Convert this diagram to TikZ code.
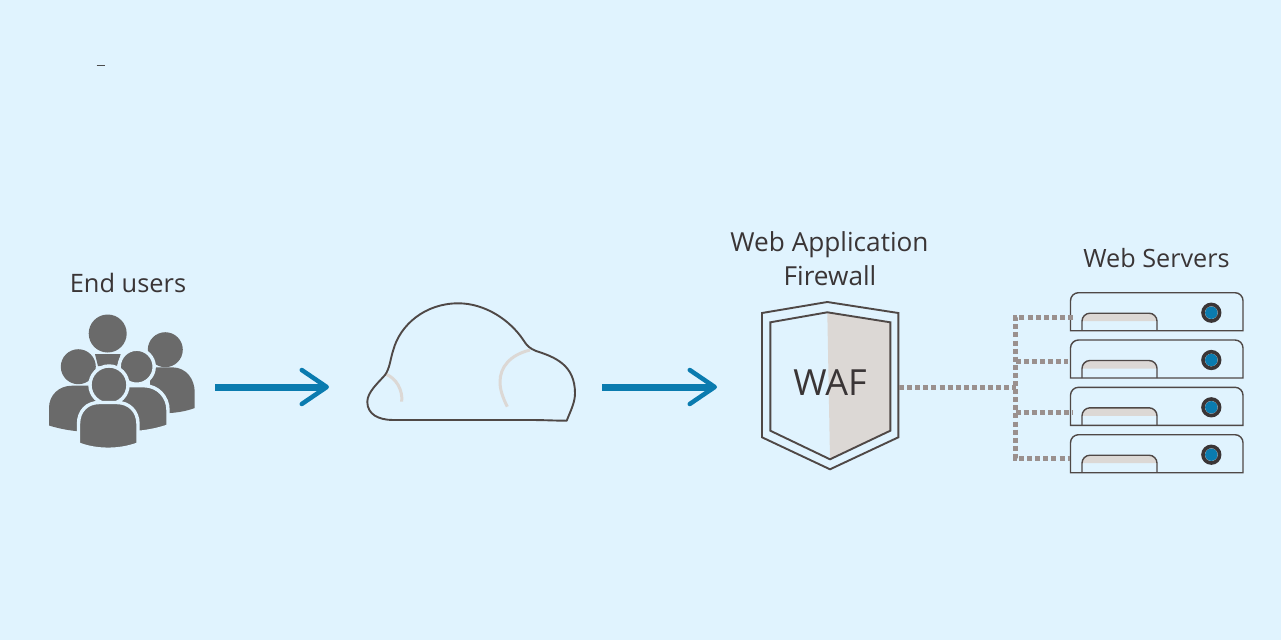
\documentclass[tikz,border=0pt]{standalone}
\usepackage{fontspec}
\setmainfont{Open Sans}
\usetikzlibrary{arrows.meta}
\definecolor{bgc}{HTML}{E0F3FE}
\definecolor{usr}{HTML}{6A6A6A}
\definecolor{txt}{HTML}{3A3536}
\definecolor{blu}{HTML}{0A7BAF}
\definecolor{lin}{HTML}{4F4846}
\definecolor{pal}{HTML}{DCD8D5}
\definecolor{dot}{HTML}{9A908E}
\tikzset{
  label text/.style={text=txt,font=\fontsize{25.4}{30}\selectfont,inner sep=0pt,anchor=base},
  flow/.style={draw=blu,line width=7pt,-{Straight Barb[length=25pt,width=34pt,line width=4.5pt,round]}},
  link/.style={draw=dot,line width=5pt,dash pattern=on 5pt off 3.1pt},
  person/.style={fill=usr,draw=none},
  ringed/.style={fill=usr,draw=bgc,line width=3.4pt},
  outline/.style={draw=lin,line width=1.9pt,line join=miter},
  soft/.style={draw=pal,line width=3pt,line cap=butt},
  rack/.style={draw=lin,line width=1.4pt},
}
\newcommand{\rackunit}[1]{%
  \begin{scope}[shift={(0,#1)}]
    \fill[pal] (1082,28.5) arc[start angle=180,end angle=270,radius=8] -- (1149,20.5) arc[start angle=270,end angle=360,radius=8] -- cycle;
    \draw[rack] (1070.5,38) -- (1070.5,8) arc[start angle=180,end angle=270,radius=8] -- (1235,0) arc[start angle=270,end angle=360,radius=8] -- (1243,38) -- cycle;
    \draw[rack] (1082,38) -- (1082,28.5) arc[start angle=180,end angle=270,radius=8] -- (1149,20.5) arc[start angle=270,end angle=360,radius=8] -- (1157,38);
    \fill[blu] (1211.3,20) circle[radius=6.2];
    \draw[txt,line width=3.6pt] (1211.3,20) circle[radius=8.3];
  \end{scope}}
\begin{document}
\begin{tikzpicture}[x=1pt,y=-1pt]
\path[use as bounding box,fill=bgc] (0,0) rectangle (1281,640);
% stray mark
\draw[black!70,line width=0.8pt] (96.5,65) -- (104.5,65);

% users
\fill[person] (107.7,333.5) circle[radius=19];
\fill[person] (95,354) -- (120.7,354) -- (117,366) -- (98,366) -- cycle;
\fill[person] (165.3,349.7) circle[radius=17.5];
\fill[person] (150,367.3) -- (172,367.3) .. controls (187,367.3) and (194.7,380) .. (194.7,392) -- (194.7,408) .. controls (187,411) and (178,412.5) .. (170,413) -- (150,413) -- cycle;
\path[ringed] (136.7,366.7) circle[radius=17.5];
\path[ringed] (106,385.7) -- (144,385.7) .. controls (158,385.7) and (168,397) .. (168,410) -- (168,426) .. controls (160,429) and (150,431) .. (141.7,432) -- (106,432) -- cycle;
\fill[person] (78.3,366.7) circle[radius=17.5];
\fill[person] (72,385.7) -- (108,385.7) -- (108,431) -- (75.7,431) .. controls (66,430) and (57,428) .. (49,425.5) -- (49,408) .. controls (49,395) and (59,385.7) .. (72,385.7) -- cycle;
\path[ringed] (109,385) circle[radius=19];
\path[ringed] (78.5,443) -- (78.5,424) .. controls (78.5,411) and (87,402.5) .. (99,402.5) -- (117,402.5) .. controls (129,402.5) and (138,411) .. (138,424) -- (138,444) .. controls (120,451) and (96,451) .. (78.5,444) -- cycle;
\node[label text] (usersLabel) at (128,292) {End users};
\coordinate (usersOut) at (215,387);
\coordinate (cloudIn) at (329,387);

% cloud
\draw[soft] (386,374.3) .. controls (396,378) and (403,390) .. (401.7,401.7);
\draw[soft] (530,350) .. controls (510,355) and (500,367) .. (500,382) .. controls (500,390) and (503,398) .. (507.3,406.7);
\draw[draw=lin,line width=1.9pt,line join=round]
  (393.3,420) .. controls (378,420) and (367.3,414) .. (367.3,401.7)
  .. controls (367.3,392) and (379,382) .. (385,375)
  .. controls (390,368) and (390,360) .. (393.3,350)
  .. controls (400,325) and (425,303.3) .. (458.3,303.3)
  .. controls (485,303.3) and (510,320) .. (523.3,340)
  .. controls (527,346) and (530,348.5) .. (536,351)
  .. controls (555,357) and (575,365) .. (575,393.3)
  .. controls (575,403) and (570,412) .. (566.7,420.7)
  .. controls (555,420.7) and (545,420) .. (530,420) -- cycle;
\coordinate (cloudOut) at (602,387);
\coordinate (wafIn) at (717,387);

% arrows
\draw[flow] (usersOut) -- (cloudIn);
\draw[flow] (cloudOut) -- (wafIn);

% WAF
\fill[pal] (827.3,312.3) -- (890.3,322.3) -- (890.3,430.7) -- (830,459.3) -- cycle;
\draw[outline] (827.3,302) -- (898.3,313) -- (898.3,437.3) -- (830,469.3) -- (762,437.3) -- (762,313) -- cycle;
\draw[outline] (827.3,312.3) -- (890.3,322.3) -- (890.3,430.7) -- (830,459.3) -- (770.3,430.7) -- (770.3,322.3) -- cycle;
\node[text=txt,font=\fontsize{36}{40}\selectfont,inner sep=0pt,anchor=base] (wafLabel) at (830,395) {WAF};
\node[label text,font=\fontsize{26.2}{30}\selectfont] (wafTitleA) at (829.5,251.7) {Web Application};
\node[label text,font=\fontsize{26.2}{30}\selectfont] (wafTitleB) at (830,285.7) {Firewall};
\coordinate (wafOut) at (899,387);
\coordinate (bus) at (1015.5,387);

% servers
\rackunit{292.7}
\rackunit{340}
\rackunit{387.3}
\rackunit{434.7}
\node[label text,font=\fontsize{25.2}{30}\selectfont] (serversLabel) at (1156.5,267) {Web Servers};
\coordinate (srvA) at (1073,317);
\coordinate (srvB) at (1068,361.3);
\coordinate (srvC) at (1073,412.3);
\coordinate (srvD) at (1070,458.5);

% dotted links
\draw[link] (wafOut) -- (bus);
\draw[link] (srvA) -- (bus |- srvA) -- (bus |- srvD) -- (srvD);
\draw[link] (bus |- srvB) -- (srvB);
\draw[link] (bus |- srvC) -- (srvC);
\end{tikzpicture}
\end{document}
